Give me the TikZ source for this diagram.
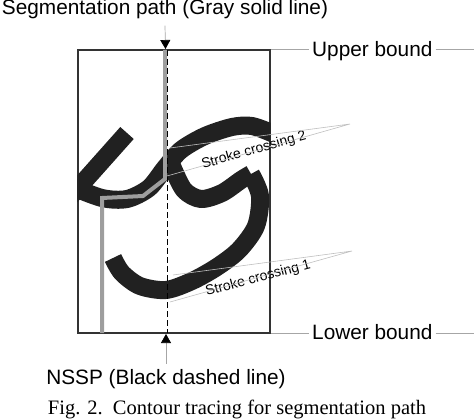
\documentclass[tikz,border=0pt]{standalone}
\usepackage{fontspec}
\setmainfont{Liberation Serif}
\setsansfont{Liberation Sans}
\usetikzlibrary{arrows.meta}
\tikzset{
  lbl/.style={font=\sffamily\fontsize{20.8}{24}\selectfont, inner sep=0pt},
  xlbl/.style={font=\sffamily\fontsize{14}{16}\selectfont, inner sep=0pt},
  leader/.style={draw=black!35, line width=0.7pt},
  wedge/.style={draw=black!25, line width=0.6pt},
  ink/.style={draw=black!87, line width=18pt, line join=round},
  segline/.style={draw=black!38, line width=4pt},
  nsspline/.style={draw=black, line width=1.5pt, dash pattern=on 6pt off 3pt},
  tip/.style={-{Triangle[length=9pt,width=10pt,color=black]}},
}
\begin{document}
\begin{tikzpicture}[x=1pt,y=-1pt]
\useasboundingbox (0,0) rectangle (474,420);
\coordinate (rim) at (474,0);
% frame of the word image
\node[draw=black!80, line width=1.3pt, minimum width=192pt, minimum height=283pt, inner sep=0pt] (frame) at (174,191.5) {};
% handwritten strokes
\begin{scope}
\clip (frame.north west) rectangle (frame.south east);
\draw[ink] (70,197) -- (127,133);
\draw[ink] plot[smooth] coordinates {(70,186) (102,198) (127,199) (149,188) (165,168) (181,150) (205,136) (232,127) (252,126) (274,134)};
\draw[ink] plot[smooth] coordinates {(172,166) (184,190) (201,199) (222,193) (241,180) (251,174)};
\draw[ink] plot[smooth] coordinates {(251,174) (260,196) (256,226) (239,250) (217,267) (192,281) (166,290) (140,286) (122,273) (113,258)};
\end{scope}
% segmentation path and NSSP
\draw[segline] (165,50) -- (165,179) -- (143,196) -- (102,198) -- (102,333);
\draw[nsspline] (167.5,50) -- (167.5,333);
% labels
\node[lbl, anchor=base] (seglbl) at (165,15) {Segmentation path (Gray solid line)};
\node[lbl, anchor=base] (nsslbl) at (166,384) {NSSP (Black dashed line)};
\node[lbl, anchor=base west] (upper) at (312,57) {Upper bound};
\node[lbl, anchor=base west] (lower) at (312,339) {Lower bound};
\coordinate (segtip) at (165.5,49);
\coordinate (nsstip) at (166,334);
\draw[leader, tip] ([yshift=-6pt]seglbl.south) -- (segtip);
\draw[leader, tip] ([yshift=5pt]nsslbl.north) -- (nsstip);
\draw[leader] (frame.north east) -- ([xshift=-3pt]upper.west |- frame.north);
\draw[leader] ([xshift=3pt]upper.east |- frame.north) -- (rim |- frame.north);
\draw[leader] (frame.south east) -- ([xshift=-3pt]lower.west |- frame.south);
\draw[leader] ([xshift=3pt]lower.east |- frame.south) -- (rim |- frame.south);
% stroke crossings
\node[xlbl, anchor=base, rotate=16] (cross2) at (255,154) {Stroke crossing 2};
\node[xlbl, anchor=base, rotate=15] (cross1) at (259,282) {Stroke crossing 1};
\coordinate (c2tip) at (350,124);
\coordinate (c1tip) at (352,251);
\draw[wedge] (170,148) -- (c2tip) -- (167,176);
\draw[wedge] (173,275) -- (c1tip) -- (170,302);
% caption
\node[font=\fontsize{20.5}{24}\selectfont, inner sep=0pt, anchor=base] (caption) at (237,414) {Fig. 2.\ \ Contour tracing for segmentation path};
\end{tikzpicture}
\end{document}
